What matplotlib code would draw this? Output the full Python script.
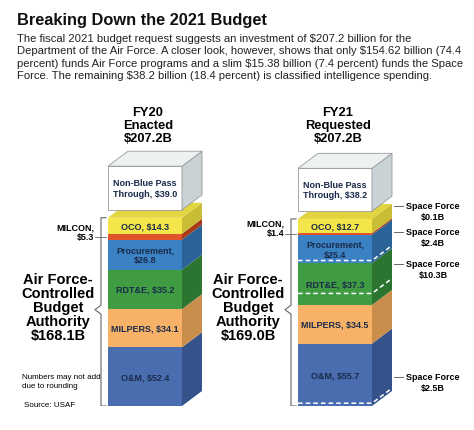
import matplotlib.pyplot as plt
from matplotlib.patches import Polygon
import numpy as np

plt.rcParams["font.family"] = ["Liberation Sans", "DejaVu Sans"]

# budget values, billions, bottom to top
segments = ["O&M", "MILPERS", "RDT&E", "Procurement", "MILCON", "OCO"]
fy20 = [52.4, 34.1, 35.2, 26.8, 5.3, 14.3]
fy21 = [55.7, 34.5, 37.3, 25.4, 1.4, 12.7]
passThrough = [39.0, 38.2]
spaceForce = [2.5, 0, 10.3, 2.4, 0, 0.1]   # FY21 share inside each segment
colors = ["#4a6db0", "#f7b267", "#3f9c42", "#3b82c4", "#e0532b", "#f4e64a"]
sides = ["#35528a", "#c98e4c", "#2c7530", "#2b6398", "#a93a1c", "#c9bd35"]

W, H = 474, 431
PXB = 1.12            # pixels per billion
BASE = 407            # pixel row of stack bottom
DX, DY = 20, 15 / PXB  # depth of the 3D faces
GAP = 7

fig = plt.figure(figsize=(W / 100, H / 100), dpi=100)
top = 130
ax = fig.add_axes([0, (H - BASE) / H, 1, (BASE - top) / H])
ax.set_xlim(0, W)
ax.set_ylim(0, (BASE - top) / PXB)
ax.axis("off")

def P(x, y):
    return x / W, 1 - y / H

def block(x0, w, y0, h, face, side, topface=None):
    ax.bar(x0, h, width=w, bottom=y0, align="edge", color=face, linewidth=0)
    ax.add_patch(Polygon([(x0 + w, y0), (x0 + w + DX, y0 + DY), (x0 + w + DX, y0 + h + DY), (x0 + w, y0 + h)],
                         closed=True, facecolor=side, linewidth=0))
    if topface:
        ax.add_patch(Polygon([(x0, y0 + h), (x0 + DX, y0 + h + DY), (x0 + w + DX, y0 + h + DY), (x0 + w, y0 + h)],
                             closed=True, facecolor=topface, linewidth=0))

def stack(x0, vals, pt, labels, dashed):
    w = 74
    bottoms = np.concatenate([[0], np.cumsum(vals)[:-1]])
    for i, (v, b) in enumerate(zip(vals, bottoms)):
        block(x0, w, b, v, colors[i], sides[i], "#e3d540" if i == len(vals) - 1 else None)
        if labels[i]:
            ax.text(x0 + w / 2, b + v / 2, labels[i], ha="center", va="center", fontsize=6.5,
                    fontweight="bold", color="#1a2a4a", linespacing=1.15)
        if dashed and spaceForce[i] > 0.5:
            yy = b + spaceForce[i]
            ax.plot([x0, x0 + w, x0 + w + DX], [yy, yy, yy + DY], color="white", lw=1.1, ls=(0, (3, 2)))
    tb = sum(vals) + GAP
    ax.bar(x0, pt, width=w, bottom=tb, align="edge", color="white", edgecolor="#999999", linewidth=0.6)
    ax.add_patch(Polygon([(x0 + w, tb), (x0 + w + DX, tb + DY), (x0 + w + DX, tb + pt + DY), (x0 + w, tb + pt)],
                         closed=True, facecolor="#c9d3d6", edgecolor="#999999", linewidth=0.6))
    ax.add_patch(Polygon([(x0, tb + pt), (x0 + DX, tb + pt + DY), (x0 + w + DX, tb + pt + DY), (x0 + w, tb + pt)],
                         closed=True, facecolor="#eef1f1", edgecolor="#999999", linewidth=0.6))
    ax.text(x0 + w / 2, tb + pt / 2, labels[-1], ha="center", va="center", fontsize=6.5,
            fontweight="bold", color="#1a2a4a", linespacing=1.2)
    return w

lab20 = ["O&M, $52.4", "MILPERS, $34.1", "RDT&E, $35.2", "Procurement,\n$26.8", "", "OCO, $14.3",
         "Non-Blue Pass\nThrough, $39.0"]
lab21 = ["O&M, $55.7", "MILPERS, $34.5", "RDT&E, $37.3", "Procurement,\n$25.4", "", "OCO, $12.7",
         "Non-Blue Pass\nThrough, $38.2"]
stack(108, fy20, passThrough[0], lab20, False)
stack(298, fy21, passThrough[1], lab21, True)

# title and intro
fig.text(*P(17, 21), "Breaking Down the 2021 Budget", fontsize=11.8, fontweight="bold", va="center", color="#111111")
intro = ("The fiscal 2021 budget request suggests an investment of $207.2 billion for the\n"
         "Department of the Air Force. A closer look, however, shows that only $154.62 billion (74.4\n"
         "percent) funds Air Force programs and a slim $15.38 billion (7.4 percent) funds the Space\n"
         "Force. The remaining $38.2 billion (18.4 percent) is classified intelligence spending.")
fig.text(*P(17, 34), intro, fontsize=8.1, va="top", linespacing=1.3, color="#222222")

fig.text(*P(148, 126), "FY20\nEnacted\n$207.2B", ha="center", va="center", fontsize=9.3, fontweight="bold", linespacing=1.1)
fig.text(*P(338, 126), "FY21\nRequested\n$207.2B", ha="center", va="center", fontsize=9.3, fontweight="bold", linespacing=1.1)

# brackets
def bracket(x, total, mid_y):
    ax.plot([x + 5, x, x, x - 6, x, x, x + 5], [total, total, mid_y + 4, mid_y, mid_y - 4, 0, 0],
            color="#666666", lw=0.8)

bracket(101, sum(fy20), 86)
bracket(291, sum(fy21), 86)
fig.text(*P(58, 308), "Air Force-\nControlled\nBudget\nAuthority\n$168.1B", ha="center", va="center",
         fontsize=10.5, fontweight="bold", linespacing=1.0)
fig.text(*P(248, 308), "Air Force-\nControlled\nBudget\nAuthority\n$169.0B", ha="center", va="center",
         fontsize=10.5, fontweight="bold", linespacing=1.0)

fig.text(*P(94, 233), "MILCON,\n$5.3", ha="right", va="center", fontsize=6.5, fontweight="bold", linespacing=1.0)
ax.plot([95, 106], [sum(fy20[:4]) + 2.6] * 2, color="#666666", lw=0.6)
fig.text(*P(284, 229), "MILCON,\n$1.4", ha="right", va="center", fontsize=6.5, fontweight="bold", linespacing=1.0)
ax.plot([285, 296], [sum(fy21[:4]) + 0.7] * 2, color="#666666", lw=0.6)

# space force callouts
sf_rows = [(5, 212), (3, 238), (2, 270), (0, 383)]
for i, yp in sf_rows:
    fig.text(*P(433, yp), f"Space Force\n${spaceForce[i]}B", ha="center", va="center", fontsize=6.5,
             fontweight="bold", linespacing=1.2)
    yy = (BASE - (yp - 5)) / PXB
    ax.plot([394, 403], [yy, yy], color="#666666", lw=0.7)

fig.text(*P(22, 382), "Numbers may not add\ndue to rounding", fontsize=5.8, va="center", linespacing=1.35)
fig.text(*P(24, 406), "Source: USAF", fontsize=5.8, va="center")

fig.savefig("out.png", dpi=100)
